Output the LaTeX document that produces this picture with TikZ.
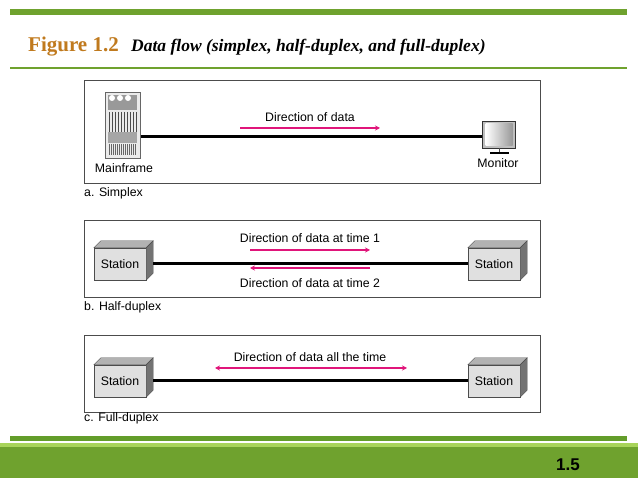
\documentclass[tikz,border=0pt]{standalone}
\usepackage{fontspec}
\setmainfont{Liberation Sans}
\newfontfamily\serifx{Liberation Serif}
\usetikzlibrary{arrows.meta}
\definecolor{gbar}{HTML}{6FA22E}
\definecolor{gdark}{HTML}{639D2A}
\definecolor{glight}{HTML}{A8D45A}
\definecolor{mag}{HTML}{E0157A}
\definecolor{orn}{HTML}{C07A1E}
\tikzset{
 panel/.style={draw=black!70,line width=0.8pt},
 link/.style={line width=3pt},
 flow/.style={draw=mag,line width=1.1pt,-{Stealth[length=5pt,width=5pt]}},
 lbl/.style={font=\fontsize{12.3}{13}\selectfont,inner sep=0pt},
 sta/.style={draw=black!70,fill=black!12,minimum width=52pt,minimum height=32pt,inner sep=0pt,font=\fontsize{12.3}{13}\selectfont},
}
\newcommand{\stationbox}[2]{%
 \node[sta] (#1) at #2 {Station};
 \fill[black!30,draw=black!70] (#1.north west) -- ++(7,-7) -- ([shift={(7,-7)}]#1.north east) -- (#1.north east) -- cycle;
 \fill[black!55,draw=black!70] (#1.north east) -- ++(7,-7) -- ([shift={(7,-7)}]#1.south east) -- (#1.south east) -- cycle;
}
\begin{document}
\begin{tikzpicture}[x=1pt,y=-1pt]
\useasboundingbox (0,0) rectangle (638,478);
% header
\fill[gbar] (10,9) rectangle (627,15);
\node[anchor=base west,inner sep=0pt,text=orn,font=\serifx\bfseries\fontsize{21}{23}\selectfont] (fig) at (28,52) {Figure 1.2};
\node[anchor=base west,inner sep=0pt,font=\serifx\bfseries\itshape\fontsize{17.5}{19}\selectfont] (ttl) at (131,52) {Data flow (simplex, half-duplex, and full-duplex)};
\fill[gbar] (10,67.5) rectangle (627,69);
% panel a
\draw[panel] (84,80) rectangle (540,183);
\coordinate (mfR) at (140,137);
\coordinate (monL) at (485,137);
\draw[link] (mfR) -- (monL);
% mainframe
\node[draw=black!60,fill=black!8,minimum width=35pt,minimum height=66pt,inner sep=0pt] (mf) at (122.5,125) {};
\fill[black!40] (108,95) rectangle (137,110);
\fill[white] (112,98) circle (3) (120,98) circle (3) (128,98) circle (3);
\foreach \xx in {109,112,...,136} \draw[black!70] (\xx,112) -- (\xx,132);
\fill[black!35] (108,132) rectangle (137,143);
\foreach \xx in {109,111,...,136} \draw[black!60,line width=0.4pt] (\xx,144) -- (\xx,155);
\node[lbl] (mft) at (124,168) {Mainframe};
% monitor
\node[draw=black!80,line width=1.5pt,fill=black!25,minimum width=33pt,minimum height=27pt,inner sep=0pt] (mon) at (499,135) {};
\shade[left color=white,right color=black!40] (485.5,124) rectangle (512.5,146);
\fill[black] (490,152) rectangle (509,154);
\draw[black!70] (499,148.5) -- (499,152);
\node[lbl] (mont) at (498,163) {Monitor};
\node[lbl] (da) at (310,117) {Direction of data};
\coordinate (a1) at (240,128); \coordinate (a2) at (380,128);
\draw[flow] (a1) -- (a2);
\node[lbl,anchor=base west] (sa) at (84,197) {a. Simplex};
% panel b
\draw[panel] (84,220) rectangle (540,297);
\stationbox{s1}{(120,264)}
\stationbox{s2}{(494,264)}
\draw[link] ([xshift=7pt]s1.east) -- (s2.west);
\node[lbl] (db1) at (310,238) {Direction of data at time 1};
\coordinate (b1) at (250,250); \coordinate (b2) at (370,250);
\draw[flow] (b1) -- (b2);
\coordinate (b3) at (370,268); \coordinate (b4) at (250,268);
\draw[flow] (b3) -- (b4);
\node[lbl] (db2) at (310,283) {Direction of data at time 2};
\node[lbl,anchor=base west] (sb) at (84,311) {b. Half-duplex};
% panel c
\draw[panel] (84,335) rectangle (540,412);
\stationbox{s3}{(120,381)}
\stationbox{s4}{(494,381)}
\draw[link] ([xshift=7pt]s3.east) -- (s4.west);
\node[lbl] (dc) at (310,357) {Direction of data all the time};
\coordinate (c1) at (215,368); \coordinate (c2) at (407,368);
\draw[flow,{Stealth[length=5pt,width=5pt]}-{Stealth[length=5pt,width=5pt]}] (c1) -- (c2);
\node[lbl,anchor=base west] (sc) at (84,422) {c. Full-duplex};
% footer
\fill[gdark] (10,436) rectangle (627,441);
\fill[glight] (0,443) rectangle (638,447);
\fill[gbar] (0,447) rectangle (638,478);
\node[font=\bfseries\fontsize{17}{19}\selectfont,inner sep=0pt] (pg) at (568,465) {1.5};
\end{tikzpicture}
\end{document}
